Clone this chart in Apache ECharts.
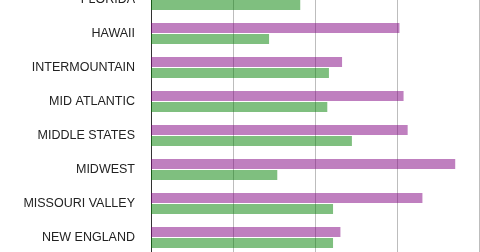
<!DOCTYPE html>
<html><head><meta charset="utf-8">
<script src="https://cdn.jsdelivr.net/npm/echarts@6/dist/echarts.min.js"></script>
<style>html,body{margin:0;padding:0;background:#fff;overflow:hidden;width:480px;height:252px}#c{position:absolute;left:0;top:-20px;width:480px;height:290px}</style>
</head><body><div id="c"></div>
<script>
var categories = ['FLORIDA','HAWAII','INTERMOUNTAIN','MID ATLANTIC','MIDDLE STATES','MIDWEST','MISSOURI VALLEY','NEW ENGLAND'];
var purpleValues = [2.40, 3.03, 2.33, 3.08, 3.13, 3.71, 3.31, 2.31];
var greenValues = [1.82, 1.44, 2.17, 2.15, 2.45, 1.54, 2.22, 2.22];
var xTicks = [0, 1, 2, 3, 4];

var chart = echarts.init(document.getElementById('c'), null, {renderer:'canvas'});
chart.setOption({
  animation: false,
  grid: {left: 151, right: 1, top: 2.5, bottom: 15.5, containLabel: false},
  xAxis: {
    type: 'value', min: xTicks[0], max: xTicks[xTicks.length-1], interval: 1,
    axisLabel: {show: false}, axisLine: {show: false}, axisTick: {show: false},
    splitLine: {show: true, lineStyle: {color: '#bdbdbd', width: 1}}
  },
  yAxis: {
    type: 'category', data: categories, inverse: true,
    axisLine: {show: true, lineStyle: {color: '#333', width: 1}},
    axisTick: {show: false},
    axisLabel: {margin: 16, color: '#222', fontSize: 12.5, fontFamily: 'Liberation Sans, Arial, sans-serif'}
  },
  series: [
    {type: 'bar', data: purpleValues, barWidth: 10, barGap: '10%', itemStyle: {color: '#800080', opacity: 0.5}},
    {type: 'bar', data: greenValues, barWidth: 10, barGap: '10%', itemStyle: {color: '#008000', opacity: 0.5}}
  ]
});
</script></body></html>
